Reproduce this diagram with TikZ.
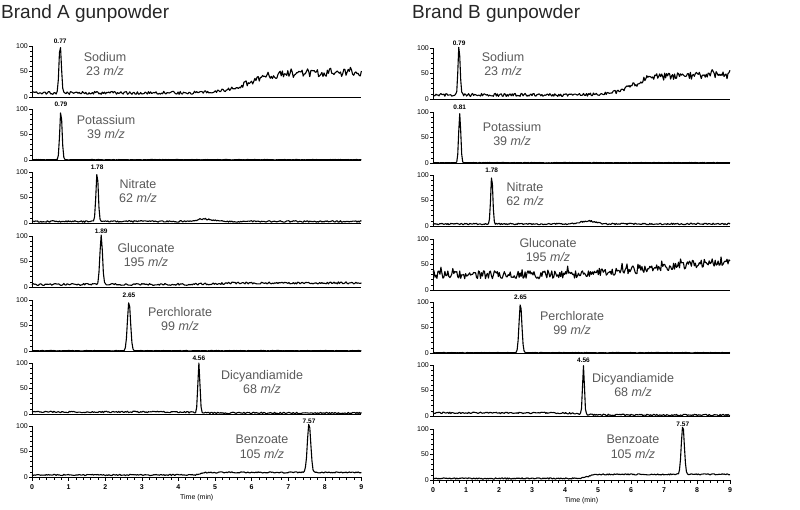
\documentclass[tikz,border=0pt]{standalone}
\usepackage{fontspec}
\setmainfont{Liberation Sans}
\tikzset{
  axisln/.style={line width=0.6pt, black},
  trace/.style={line width=1.1pt, black, line join=round},
  ylab/.style={anchor=east, font=\fontsize{7}{7}\selectfont, inner sep=0.5pt},
  pklab/.style={anchor=south, font=\fontsize{6.5}{7}\selectfont\bfseries, inner sep=0pt, yshift=2pt},
  cmp/.style={align=center, text=black!65, font=\fontsize{12.5}{14.5}\selectfont, inner sep=0pt},
  ttl/.style={anchor=west, font=\fontsize{19}{21}\selectfont, text=black!85, inner sep=0pt},
  declare function={pk(\t,\c,\w)=96*exp(-(min(3,abs(\t-\c)/\w))^2);
                    sig(\t,\c,\k)=1/(1+exp(-max(-8,min(8,(\t-\c)*\k))));}
}
\newcommand\chrom[6]{% x0, scale, base, expr, peakpos, peaklabel
\begin{scope}[shift={(#1pt,{(510-#3)*1pt})}, x=#2pt, y=0.51pt]
 \draw[axisln] (0,0) -- (9,0);
 \draw[axisln] (0,0) -- (0,100);
 \foreach \v in {0,10,...,100} \draw[axisln] (0,\v) -- ([xshift=-2pt]0,\v);
 \foreach \v in {0,50,100} {\draw[axisln] (0,\v) -- ([xshift=-3.5pt]0,\v);
   \node[ylab] at ([xshift=-3.5pt]0,\v) {\v};}
 \draw[trace] plot[domain=0:9,samples=301] (\x,{#4});
 \if\relax\detokenize{#6}\relax\else\node[pklab] at (#5,100) {#6};\fi
\end{scope}}
\newcommand\taxis[3]{% x0, scale, base
\begin{scope}[shift={(#1pt,{(510-#3)*1pt})}, x=#2pt, y=1pt]
 \foreach \t in {0,0.2,...,9.01} \draw[axisln] (\t,0) -- (\t,-3);
 \foreach \t in {0,...,9} {\draw[axisln] (\t,0) -- (\t,-4.5);
   \node[font=\fontsize{7}{8}\selectfont\bfseries, anchor=north, inner sep=0pt] at (\t,-7) {\t};}
 \node[font=\fontsize{7}{8}\selectfont, anchor=north, inner sep=0pt] (tm) at (4.5,-17) {Time (min)};
\end{scope}}
\begin{document}
\begin{tikzpicture}[x=1pt,y=1pt]
\useasboundingbox (0,0) rectangle (800,510);
\pgfmathsetseed{7}
\node[ttl] (ta) at (1,496) {Brand A gunpowder};
\node[ttl] (tb) at (412,496) {Brand B gunpowder};
% Brand A
\chrom{32}{36.6}{97}{8+3*rand+40*sig(\x,5.9,3)+sig(\x,5.9,3)*8*rand+pk(\x,0.77,0.045)}{0.77}{0.77}
\chrom{32}{36.6}{160}{0.6+0.4*rand+pk(\x,0.79,0.045)}{0.79}{0.79}
\chrom{32}{36.6}{223}{3+1.5*rand+pk(\x,1.78,0.045)+5*exp(-(min(3,abs(\x-4.7)/0.3))^2)}{1.78}{1.78}
\chrom{32}{36.6}{287}{5+2*rand+3*sig(\x,5,3)+pk(\x,1.89,0.05)}{1.89}{1.89}
\chrom{32}{36.6}{351}{0.6+0.4*rand+pk(\x,2.65,0.06)}{2.65}{2.65}
\chrom{32}{36.6}{414}{4+1.5*rand-2*sig(\x,4.5,5)+pk(\x,4.56,0.04)}{4.56}{4.56}
\chrom{32}{36.6}{477}{4+1.2*rand+5*sig(\x,4.6,20)+pk(\x,7.57,0.065)}{7.57}{7.57}
\taxis{32}{36.6}{477}
% Brand B
\chrom{433}{33}{99}{8+3*rand+40*sig(\x,6.1,3)+sig(\x,6.1,3)*8*rand+pk(\x,0.79,0.045)}{0.79}{0.79}
\chrom{433}{33}{163}{0.6+0.4*rand+pk(\x,0.81,0.045)}{0.81}{0.81}
\chrom{433}{33}{226}{4+1.5*rand+pk(\x,1.78,0.045)+6*exp(-(min(3,abs(\x-4.7)/0.3))^2)}{1.78}{1.78}
\chrom{433}{33}{290}{30+8*rand+6*max(0,\x-4.5)+25*max(0,rand-0.85)*4}{0}{}
\chrom{433}{33}{353}{0.6+0.4*rand+pk(\x,2.65,0.06)}{2.65}{2.65}
\chrom{433}{33}{416}{6+1.5*rand-4*sig(\x,4.5,5)+pk(\x,4.56,0.04)}{4.56}{4.56}
\chrom{433}{33}{480}{3+1.2*rand+8*sig(\x,4.7,10)+pk(\x,7.57,0.065)}{7.57}{7.57}
\taxis{433}{33}{480}
% compound labels
\node[cmp] (a1) at (105,446) {Sodium\\23 \textit{m/z}};
\node[cmp] (a2) at (106,383) {Potassium\\39 \textit{m/z}};
\node[cmp] (a3) at (138,319) {Nitrate\\62 \textit{m/z}};
\node[cmp] (a4) at (146,255) {Gluconate\\195 \textit{m/z}};
\node[cmp] (a5) at (180,191) {Perchlorate\\99 \textit{m/z}};
\node[cmp] (a6) at (262,128) {Dicyandiamide\\68 \textit{m/z}};
\node[cmp] (a7) at (262,63) {Benzoate\\105 \textit{m/z}};
\node[cmp] (b1) at (503,446) {Sodium\\23 \textit{m/z}};
\node[cmp] (b2) at (512,376) {Potassium\\39 \textit{m/z}};
\node[cmp] (b3) at (525,316) {Nitrate\\62 \textit{m/z}};
\node[cmp] (b4) at (548,260) {Gluconate\\195 \textit{m/z}};
\node[cmp] (b5) at (572,187) {Perchlorate\\99 \textit{m/z}};
\node[cmp] (b6) at (633,125) {Dicyandiamide\\68 \textit{m/z}};
\node[cmp] (b7) at (633,63) {Benzoate\\105 \textit{m/z}};
\end{tikzpicture}
\end{document}
